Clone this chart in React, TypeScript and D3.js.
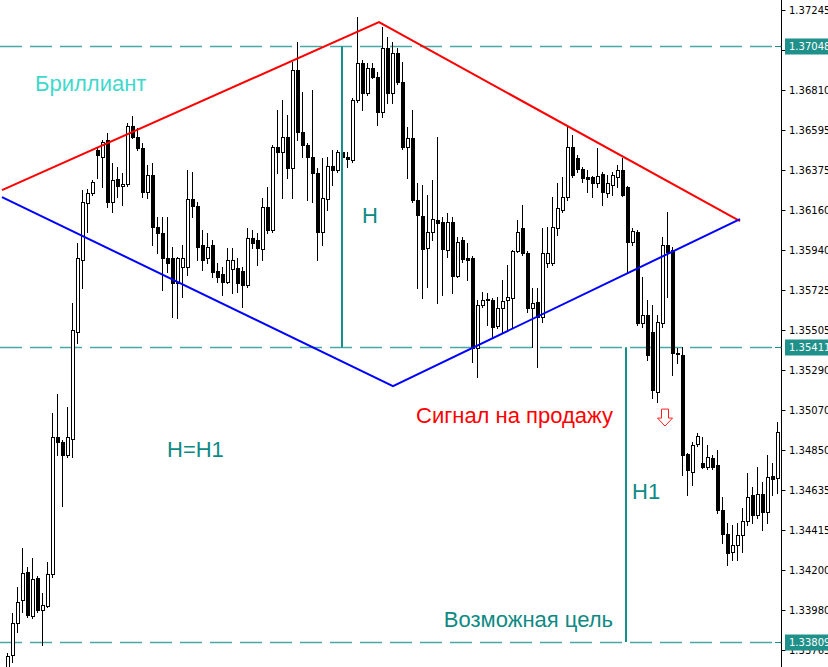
import React from "react";
import * as d3 from "d3";

const W = 828;
const H = 667;

const open = [1.33656,1.33738,1.33912,1.34037,1.34189,1.33950,1.34156,1.33982,1.34004,1.34178,1.34923,1.34896,1.34825,1.34912,1.35494,1.35885,1.36195,1.36250,1.36483,1.36445,1.36538,1.36201,1.36326,1.36288,1.36299,1.36614,1.36554,1.36494,1.36255,1.36347,1.36065,1.36032,1.35896,1.35896,1.35760,1.35847,1.35847,1.36217,1.36179,1.35967,1.35896,1.35967,1.35826,1.35809,1.35766,1.35836,1.35842,1.35826,1.35750,1.36005,1.35994,1.35945,1.36173,1.36048,1.36500,1.36473,1.36554,1.36386,1.36918,1.36581,1.36511,1.36445,1.36358,1.36038,1.36217,1.36396,1.36375,1.36473,1.36445,1.36429,1.36755,1.36956,1.36793,1.36929,1.36880,1.36690,1.37038,1.36793,1.37011,1.36853,1.36500,1.36549,1.36212,1.36125,1.35951,1.36038,1.36103,1.36092,1.35940,1.36092,1.35798,1.35994,1.35896,1.35896,1.35407,1.35641,1.35673,1.35668,1.35527,1.35624,1.35668,1.35679,1.35934,1.36059,1.35923,1.35624,1.35657,1.35576,1.35869,1.35869,1.36059,1.36157,1.36228,1.36500,1.36440,1.36380,1.36337,1.36337,1.36304,1.36353,1.36250,1.36293,1.36337,1.36375,1.36282,1.35983,1.36038,1.35543,1.35586,1.35494,1.35168,1.35543,1.35967,1.35940,1.35380,1.35369,1.34831,1.34733,1.34885,1.34782,1.34760,1.34809,1.34771,1.34526,1.34396,1.34298,1.34336,1.34390,1.34466,1.34608,1.34499,1.34613,1.34515,1.34711,1.34700];
const high = [1.33749,1.33966,1.34107,1.34320,1.34216,1.34265,1.34167,1.34075,1.34243,1.35054,1.35157,1.34907,1.35086,1.35652,1.35978,1.36266,1.36271,1.36320,1.36500,1.36538,1.36576,1.36413,1.36391,1.36358,1.36630,1.36668,1.36603,1.36521,1.36402,1.36413,1.36119,1.36119,1.36119,1.35956,1.35902,1.35967,1.36375,1.36364,1.36201,1.36048,1.36032,1.35994,1.35869,1.35847,1.35951,1.35951,1.35896,1.35847,1.36059,1.36048,1.36032,1.36222,1.36282,1.36511,1.36701,1.36755,1.36674,1.36962,1.37071,1.36799,1.36521,1.36810,1.36386,1.36440,1.36445,1.36483,1.36483,1.36511,1.36473,1.36766,1.37207,1.36973,1.36956,1.36956,1.36907,1.37152,1.37098,1.37071,1.37038,1.36962,1.36609,1.36701,1.36304,1.36293,1.36239,1.36320,1.36554,1.36119,1.36141,1.36119,1.36010,1.36010,1.35978,1.35907,1.35668,1.35711,1.35706,1.35679,1.35684,1.35777,1.35858,1.35940,1.36103,1.36184,1.35934,1.35733,1.35733,1.36059,1.36065,1.36228,1.36304,1.36337,1.36609,1.36565,1.36456,1.36391,1.36375,1.36342,1.36494,1.36364,1.36347,1.36364,1.36402,1.36440,1.36288,1.36059,1.36048,1.35793,1.35668,1.35641,1.35586,1.36010,1.36146,1.35956,1.35407,1.35412,1.34836,1.34896,1.34945,1.34923,1.34880,1.34825,1.34852,1.34597,1.34455,1.34445,1.34455,1.34537,1.34727,1.34651,1.34760,1.34678,1.34825,1.34782,1.35005];
const low = [1.33629,1.33700,1.33863,1.33972,1.33944,1.33939,1.33972,1.33792,1.33999,1.34162,1.34825,1.34548,1.34814,1.34814,1.35434,1.35733,1.36038,1.36239,1.36331,1.36282,1.36173,1.36146,1.36228,1.36184,1.36288,1.36549,1.36483,1.36228,1.36222,1.35967,1.35923,1.35722,1.35820,1.35576,1.35570,1.35684,1.35804,1.36119,1.35885,1.35831,1.35869,1.35793,1.35766,1.35695,1.35760,1.35706,1.35711,1.35630,1.35739,1.35951,1.35858,1.35885,1.36032,1.36038,1.36358,1.36222,1.36331,1.36222,1.36538,1.36445,1.36212,1.36201,1.35885,1.35967,1.36157,1.36293,1.36364,1.36391,1.36391,1.36418,1.36744,1.36701,1.36782,1.36875,1.36619,1.36663,1.36739,1.36739,1.36842,1.36489,1.36331,1.36201,1.35733,1.35679,1.35739,1.35994,1.35652,1.35695,1.35902,1.35706,1.35793,1.35874,1.35777,1.35331,1.35249,1.35630,1.35532,1.35461,1.35516,1.35494,1.35505,1.35521,1.35929,1.35913,1.35603,1.35412,1.35304,1.35548,1.35847,1.35858,1.36021,1.36146,1.36212,1.36337,1.36364,1.36309,1.36255,1.36228,1.36282,1.36184,1.36228,1.36239,1.36282,1.36233,1.35820,1.35967,1.35532,1.35521,1.35342,1.35135,1.35113,1.35521,1.35684,1.35260,1.35325,1.34716,1.34608,1.34662,1.34874,1.34754,1.34749,1.34749,1.34510,1.34347,1.34227,1.34254,1.34254,1.34298,1.34445,1.34455,1.34483,1.34417,1.34455,1.34608,1.34619];
const close = [1.33732,1.33912,1.34026,1.34184,1.33955,1.34151,1.33982,1.34010,1.34178,1.34923,1.34896,1.34825,1.34923,1.35505,1.35896,1.36201,1.36250,1.36309,1.36456,1.36527,1.36201,1.36320,1.36288,1.36299,1.36614,1.36554,1.36494,1.36255,1.36347,1.36065,1.36032,1.35896,1.35869,1.35760,1.35896,1.35896,1.36217,1.36179,1.35956,1.35885,1.35956,1.35820,1.35793,1.35766,1.35885,1.35885,1.35760,1.35750,1.36005,1.35978,1.35951,1.36173,1.36048,1.36500,1.36473,1.36554,1.36386,1.36918,1.36581,1.36511,1.36445,1.36358,1.36038,1.36222,1.36396,1.36375,1.36473,1.36445,1.36435,1.36755,1.36956,1.36793,1.36929,1.36880,1.36690,1.37038,1.36793,1.37011,1.36853,1.36500,1.36549,1.36212,1.36130,1.35945,1.36038,1.36108,1.36087,1.35945,1.36092,1.35798,1.35983,1.35891,1.35888,1.35407,1.35641,1.35668,1.35668,1.35521,1.35624,1.35662,1.35684,1.35934,1.36038,1.35923,1.35624,1.35652,1.35576,1.35923,1.35923,1.36065,1.36168,1.36228,1.36500,1.36347,1.36380,1.36331,1.36326,1.36304,1.36342,1.36255,1.36304,1.36347,1.36375,1.36239,1.35983,1.36043,1.35543,1.35586,1.35369,1.35179,1.35548,1.35967,1.35929,1.35380,1.35374,1.34825,1.34744,1.34880,1.34928,1.34760,1.34814,1.34760,1.34526,1.34396,1.34292,1.34336,1.34390,1.34466,1.34597,1.34499,1.34613,1.34515,1.34706,1.34695,1.34950];

const yTicks = [1.37245,1.3703,1.3681,1.36595,1.36375,1.3616,1.3594,1.35725,1.35505,1.3529,1.3507,1.3485,1.34635,1.34415,1.342,1.3398,1.33765];
const levels = [1.37048, 1.35411, 1.33809];

// diamond borders (bar index, price)
const redIdx = [-1, 74.4, 146.6];
const redPrice = [1.36266, 1.37179, 1.36097];
const blueIdx = [-1, 77.2, 146.6];
const bluePrice = [1.36228, 1.352, 1.36108];

// height measures: bar index, from price, to price
const measureIdx = [67, 123.8];
const measureFrom = [1.37048, 1.35411];
const measureTo = [1.35411, 1.33809];

const labels = ["Бриллиант", "H", "H=H1", "Сигнал на продажу", "H1", "Возможная цель"];
const labelIdx = [5.6, 71, 32, 121.2, 125, 121.2];
const labelPrice = [1.36804, 1.36087, 1.34814, 1.35] ;
const labelPrice2 = [1.36804, 1.36087, 1.34814, 1.35, 1.34586, 1.33888];
const labelColor = ["#3fd8cb", "#0e8a84", "#0e8a84", "#ff0000", "#0e8a84", "#0e8a84"];
const labelAnchor = ["start", "start", "start", "end", "start", "end"];

const arrowIdx = 131.6;
const arrowPrice = 1.35075;

const x = d3.scaleLinear().domain([0, 154]).range([7, 777]);
const y = d3.scaleLinear().domain([1.33765, 1.37245]).range([650, 10]);
const AXIS_X = 781.5;

export default function App() {
  const redPath = d3.line<number>().x((_, i) => x(redIdx[i])).y((d) => y(d))(redPrice) || "";
  const bluePath = d3.line<number>().x((_, i) => x(blueIdx[i])).y((d) => y(d))(bluePrice) || "";
  const ax = x(arrowIdx);
  const ay = y(arrowPrice);
  const arrow = `M${ax - 3.5},${ay} L${ax + 3.5},${ay} L${ax + 3.5},${ay + 9} L${ax + 7.5},${ay + 9} L${ax},${ay + 17} L${ax - 7.5},${ay + 9} L${ax - 3.5},${ay + 9} Z`;

  return (
    <div style={{ position: "absolute", left: 0, top: 0, width: W, height: H, background: "#fff" }}>
      <svg width={W} height={H} style={{ display: "block" }}>
        <rect x={0} y={0} width={W} height={H} fill="#fff" />
        {/* dashed levels */}
        {levels.map((v, i) => (
          <line key={"lv" + i} x1={0} x2={AXIS_X} y1={Math.round(y(v)) + 0.5} y2={Math.round(y(v)) + 0.5}
            stroke="#4aa8a4" strokeWidth={1.5} strokeDasharray="22 8" />
        ))}
        {/* candles */}
        <g>
          {open.map((o, i) => {
            const c = close[i];
            const n = Math.round(x(i));
            const top = Math.round(y(Math.max(o, c)));
            const bot = Math.round(y(Math.min(o, c)));
            const bull = c > o;
            return (
              <g key={"c" + i} shapeRendering="crispEdges">
                <line x1={n + 0.5} x2={n + 0.5} y1={Math.round(y(high[i]))} y2={Math.round(y(low[i])) + 1} stroke="#000" strokeWidth={1} />
                {bot - top >= 1 ? (
                  <rect x={n - 0.5} y={top + 0.5} width={3} height={bot - top} fill={bull ? "#fff" : "#000"} stroke="#000" strokeWidth={1} />
                ) : (
                  <line x1={n - 1} x2={n + 3} y1={top + 0.5} y2={top + 0.5} stroke="#000" strokeWidth={1} />
                )}
              </g>
            );
          })}
        </g>
        {/* diamond */}
        <path d={redPath} fill="none" stroke="#ff0000" strokeWidth={2} />
        <path d={bluePath} fill="none" stroke="#0000ff" strokeWidth={2} />
        {/* measures */}
        {measureIdx.map((m, i) => (
          <line key={"m" + i} x1={Math.round(x(m))} x2={Math.round(x(m))} y1={y(measureFrom[i])} y2={y(measureTo[i])}
            stroke="#13908a" strokeWidth={2} />
        ))}
        {/* arrow */}
        <path d={arrow} fill="#fff" stroke="#ff2020" strokeWidth={1} />
        {/* labels */}
        {labels.map((t, i) => (
          <text key={"t" + i} x={x(labelIdx[i])} y={y(labelPrice2[i])} fill={labelColor[i]} textAnchor={labelAnchor[i] as any}
            fontFamily="'Liberation Sans', Arial, sans-serif" fontSize={22}>{t}</text>
        ))}
        {/* axis */}
        <rect x={AXIS_X + 0.5} y={0} width={W - AXIS_X} height={H} fill="#fff" />
        <line x1={AXIS_X} x2={AXIS_X} y1={0} y2={H} stroke="#000" strokeWidth={1} />
        {yTicks.map((v, i) => {
          const ty = Math.round(y(v)) + 0.5;
          return (
            <g key={"yt" + i}>
              <line x1={AXIS_X} x2={AXIS_X + 4} y1={ty} y2={ty} stroke="#000" strokeWidth={1} />
              <text x={789} y={ty} dy="0.35em" fontFamily="'DejaVu Sans', Tahoma, sans-serif" fontSize={10} fill="#000">
                {d3.format(".5f")(v)}
              </text>
            </g>
          );
        })}
        {levels.map((v, i) => {
          const ty = Math.round(y(v)) + 0.5;
          return (
            <g key={"lb" + i}>
              <line x1={775} x2={AXIS_X} y1={ty} y2={ty} stroke="#13908a" strokeWidth={1} />
              <rect x={785} y={ty - 8} width={W - 785} height={16} fill="#1f918a" />
              <text x={789} y={ty} dy="0.35em" fontFamily="'DejaVu Sans', Tahoma, sans-serif" fontSize={10} fill="#fff">
                {d3.format(".5f")(v)}
              </text>
            </g>
          );
        })}
      </svg>
    </div>
  );
}
